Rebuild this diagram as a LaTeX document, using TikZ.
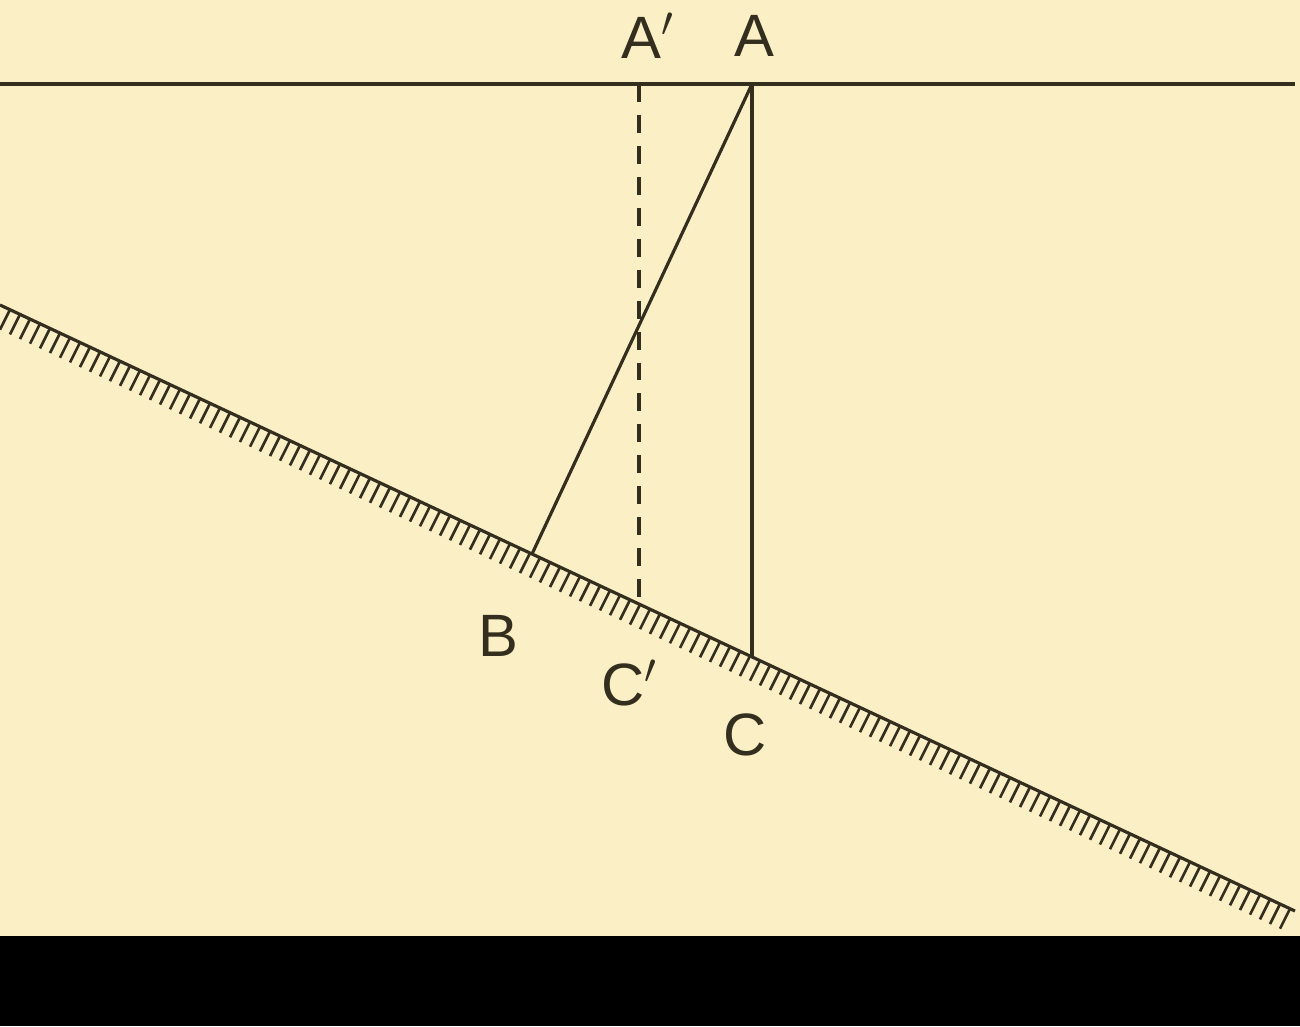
\documentclass[tikz,border=0pt]{standalone}
\usepackage{fontspec}
\setsansfont{Liberation Sans}
\usepackage{xcolor}
\usepackage{tikz}
\definecolor{paper}{RGB}{251,239,198}
\definecolor{ink}{RGB}{52,46,30}
\tikzset{
  lbl/.style={font=\sffamily\fontsize{17}{20}\selectfont, inner sep=0pt, ink},
  hatch/.style={line width=0.75pt, ink},
}
\begin{document}
\begin{tikzpicture}[x=0.01cm,y=-0.01cm,line width=0.9pt,ink]
\fill [paper] (0,0) rectangle (1300,936);
\fill [black] (0,936) rectangle (1300,1026);
\useasboundingbox (0,0) rectangle (1300,1026);

% points
\coordinate (L) at (0,84);
\coordinate (R) at (1295,84);
\coordinate (A) at (752,84);
\coordinate (Ap) at (639,84);
\coordinate (B) at (532,554);
\coordinate (Cp) at (639,604);
\coordinate (C) at (752,657);
\coordinate (S1) at (0,305);
\coordinate (S2) at (1295,911);

% level line and slope
\draw (L) -- (R);
\draw (S1) -- (S2);
\foreach \x in {10,20,...,1290}
  \draw [hatch] (\x,{305+0.468*\x}) -- ++(-10,20);

\draw (A) -- (C);
\draw (A) -- (B);
\draw [dash pattern=on 5.1pt off 3.7pt] (Ap) -- (Cp);

\node [lbl] (lA) at (754,36) {A};
\node [lbl] (lAp) at (648,36) {A$'$};
\node [lbl] (lB) at (498,636) {B};
\node [lbl] (lCp) at (630,683) {C$'$};
\node [lbl] (lC) at (745,735) {C};
\end{tikzpicture}
\end{document}
